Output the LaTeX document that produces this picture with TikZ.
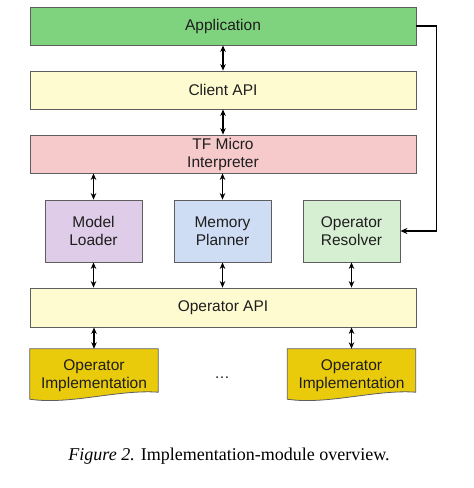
\documentclass[tikz,border=0pt]{standalone}
\usepackage{fontspec}
\setmainfont{Liberation Serif}
\newfontfamily\boxfont{Liberation Sans}
\usepackage{xcolor}
\definecolor{appgreen}{HTML}{80D37E}
\definecolor{apiyellow}{HTML}{FDFBCF}
\definecolor{interppink}{HTML}{F6C9CB}
\definecolor{loaderpurple}{HTML}{DECCE8}
\definecolor{plannerblue}{HTML}{CEDCF4}
\definecolor{resolvergreen}{HTML}{D6EFD2}
\definecolor{implgold}{HTML}{E9CB0C}
\definecolor{edgegray}{HTML}{5E5E5E}
\definecolor{textdark}{HTML}{1E1E1E}
\usetikzlibrary{arrows.meta,positioning,calc}

\begin{document}
\begin{tikzpicture}[x=1pt,y=-1pt,
    layer/.style={draw=edgegray, line width=0.8pt, minimum width=386pt, minimum height=38pt,
      inner sep=0pt, align=center, text=textdark, font=\boxfont\fontsize{15.5}{18}\selectfont},
    module/.style={layer, minimum width=97pt, minimum height=62pt},
    impl/.style={minimum width=128pt, minimum height=48pt, inner sep=0pt, align=center,
      text=textdark, font=\boxfont\fontsize{15.5}{18}\selectfont},
    link/.style={{Stealth[length=6.5pt,width=5.5pt]}-{Stealth[length=6.5pt,width=5.5pt]}, line width=1.1pt}]
  \useasboundingbox (0,0) rectangle (474,488);

  % layers
  \node[layer, fill=appgreen] (app) at (223,26) {Application};
  \node[layer, fill=apiyellow] (client) at (223,90) {Client API};
  \node[layer, fill=interppink] (interp) at (223,154) {TF Micro\\Interpreter};
  \node[module, fill=loaderpurple] (loader) at (93.5,231) {Model\\Loader};
  \node[module, fill=plannerblue] (planner) at (222.5,231) {Memory\\Planner};
  \node[module, fill=resolvergreen] (resolver) at (351.5,231) {Operator\\Resolver};
  \node[layer, fill=apiyellow, minimum height=39pt] (opapi) at (223,307.5) {Operator API};

  % operator implementations
  \node[impl] (implA) at (94,373) {};
  \node[impl] (implB) at (351.5,373) {};
  \foreach \k in {implA,implB} {
    \draw[draw=edgegray, line width=0.8pt, fill=implgold]
      (\k.north west) -- (\k.north east) -- ([yshift=5pt]\k.south east)
      .. controls ([xshift=-40pt,yshift=8pt]\k.south east) and ([xshift=40pt,yshift=-8pt]\k.south west)
      .. ([yshift=-2pt]\k.south west) -- cycle;
    \node[impl, anchor=center] at ([yshift=-3pt]\k.center) {Operator\\Implementation};
  }
  \node[text=textdark, font=\boxfont\fontsize{15.5}{18}\selectfont] (dots) at (222,378) {\dots};

  % connectors
  \draw[link] (app) -- (client);
  \draw[link] (client) -- (interp);
  \draw[link] (loader.north) -- (loader.north |- interp.south);
  \draw[link] (planner.north) -- (planner.north |- interp.south);
  \draw[link] (loader.south) -- (loader.south |- opapi.north);
  \draw[link] (planner.south) -- (planner.south |- opapi.north);
  \draw[link] (resolver.south) -- (resolver.south |- opapi.north);
  \draw[link] (implA.north) -- (implA.north |- opapi.south);
  \draw[link] (implB.north) -- (implB.north |- opapi.south);
  \draw[-{Stealth[length=7pt,width=6pt]}, line width=1.1pt]
    (app.east) -- ++(20,0) |- (resolver.east);

  \node[font=\fontsize{18}{22}\selectfont] (caption) at (229,456) {\textit{Figure 2.} Implementation-module overview.};
\end{tikzpicture}
\end{document}
